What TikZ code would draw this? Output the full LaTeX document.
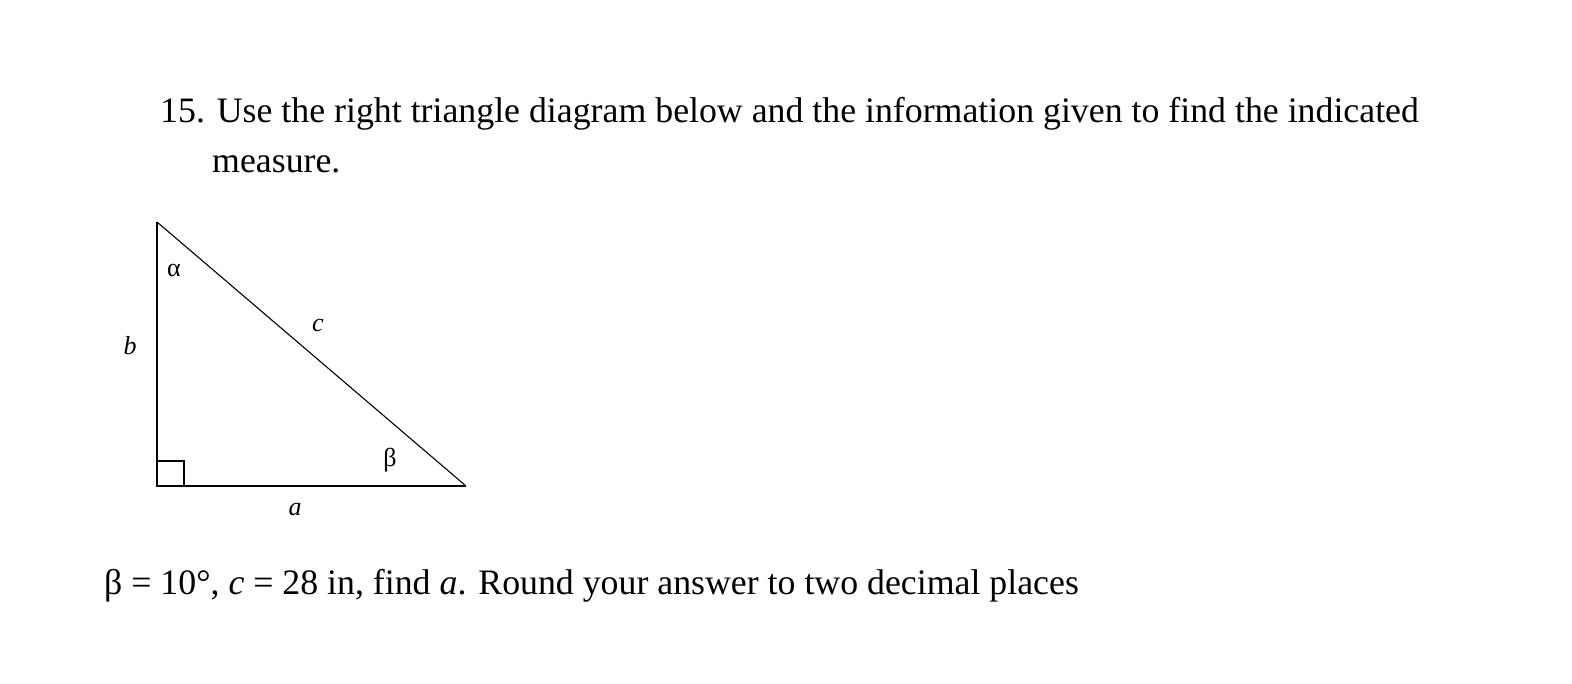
\documentclass[tikz,border=0pt]{standalone}
\usepackage{fontspec}
\setmainfont{Liberation Serif}
\begin{document}
\begin{tikzpicture}[x=1pt,y=-1pt,
  body/.style={inner sep=0pt,anchor=base west,font=\fontsize{35.8}{40}\selectfont},
  lbl/.style={inner sep=0pt,font=\fontsize{26}{28}\selectfont},
  leg/.style={line width=1.8pt},
  hyp/.style={line width=1.1pt}]
\useasboundingbox (0,0) rectangle (1572,684);
\node[body] (l1) at (160,123) {15. Use the right triangle diagram below and the information given to find the indicated};
\node[body] (l2) at (212,173) {measure.};
\coordinate (A) at (157,222);
\coordinate (C) at (157,486);
\coordinate (B) at (466,486);
\draw[leg] (A) -- (C) -- (B);
\draw[hyp] (A) -- (B);
\draw[line width=1.4pt] (157,461) -- (184,461) -- (184,486);
\node[lbl] (al) at (174,270) {α};
\node[lbl] (cl) at (318,326) {\itshape c};
\node[lbl] (bl) at (130,346) {\itshape b};
\node[lbl] (be) at (390,460) {β};
\node[lbl] (al2) at (295,510) {\itshape a};
\node[body] (l3) at (104,594) {β = 10°, \textit{c} = 28 in, find \textit{a}. Round your answer to two decimal places};
\end{tikzpicture}
\end{document}
